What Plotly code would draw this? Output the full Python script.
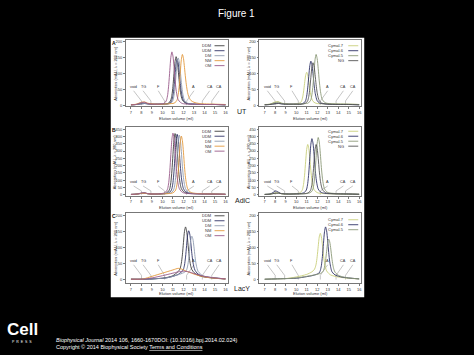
import plotly.graph_objects as go

# ---------------- data ----------------
X_TICKS = [7, 8, 9, 10, 11, 12, 13, 14, 15, 16]
Y_TICKS_200 = [0, 50, 100, 150, 200]
Y_TICKS_450 = [0, 50, 100, 150, 200, 250, 300, 350, 400, 450]

DETERGENTS = ["DDM", "UDM", "DM", "NM", "OM"]
DET_COLORS = ["#3d3d3d", "#2f3266", "#8e9bb0", "#e39a3e", "#9a5a8a"]
CYMALS = ["Cymal-7", "Cymal-6", "Cymal-5", "NG"]
CYM_COLORS = ["#c9cf7c", "#2f3266", "#8c9a78", "#555555"]

MARKER_NAMES = ["void", "TG", "F", "A", "CA", "CA"]
MARKER_POS = [8.0, 8.9, 10.2, 12.3, 13.8, 14.7]
MARKER_LABEL_POS = [7.25, 8.15, 9.6, 13.0, 14.5, 15.4]

# --- UT, detergents ---
UT_DDM_X = [7, 7.5, 8, 8.3, 8.6, 9, 9.5, 10, 10.3, 10.5, 10.7, 10.8, 10.9, 11.0, 11.1, 11.2, 11.3, 11.4, 11.5, 11.6, 11.7, 11.8, 11.9, 12.1, 12.3, 13, 14, 15, 16]
UT_DDM_Y = [1, 2, 5, 6, 4, 3, 3, 3, 4, 5, 10, 16, 31, 59, 100, 137, 152, 140, 110, 73, 44, 26, 16, 8, 5, 3, 2, 2, 1]
UT_UDM_X = [7, 7.5, 8, 8.3, 8.6, 9, 9.5, 10, 10.4, 10.6, 10.8, 10.9, 11.0, 11.1, 11.2, 11.3, 11.4, 11.5, 11.6, 11.7, 11.8, 11.9, 12.0, 12.2, 12.4, 13, 14, 15, 16]
UT_UDM_Y = [1, 2, 4, 5, 4, 3, 3, 3, 3, 5, 9, 15, 29, 56, 94, 129, 143, 132, 104, 68, 41, 25, 15, 8, 5, 3, 2, 2, 1]
UT_DM_X = [7, 7.5, 8, 8.3, 8.6, 9, 9.5, 10, 10.5, 10.7, 10.9, 11.0, 11.1, 11.2, 11.3, 11.4, 11.5, 11.6, 11.7, 11.8, 11.9, 12.0, 12.1, 12.3, 12.5, 13, 14, 15, 16]
UT_DM_Y = [1, 2, 4, 5, 4, 3, 3, 3, 3, 5, 9, 15, 30, 57, 97, 133, 148, 136, 107, 71, 43, 25, 15, 8, 5, 3, 2, 2, 1]
UT_NM_X = [7, 7.5, 8, 8.3, 8.6, 9, 9.5, 10, 10.5, 10.9, 11.1, 11.3, 11.4, 11.5, 11.6, 11.7, 11.8, 11.9, 12.0, 12.1, 12.2, 12.3, 12.4, 12.5, 12.7, 13.0, 13.5, 14, 15, 16]
UT_NM_Y = [1, 3, 9, 10, 6, 4, 3, 3, 4, 5, 6, 11, 17, 33, 62, 104, 143, 159, 147, 118, 85, 58, 39, 27, 15, 9, 5, 4, 3, 2]
UT_OM_X = [7, 7.5, 8, 8.3, 8.6, 9, 9.5, 9.9, 10.1, 10.3, 10.4, 10.5, 10.6, 10.7, 10.8, 10.9, 11.0, 11.1, 11.2, 11.3, 11.4, 11.5, 11.7, 11.9, 12.5, 13, 14, 15, 16]
UT_OM_Y = [1, 2, 8, 9, 5, 3, 3, 4, 5, 10, 17, 33, 65, 109, 150, 167, 154, 121, 80, 48, 28, 17, 9, 5, 3, 3, 2, 2, 1]

# --- UT, cymals ---
UT_C7_X = [7, 7.5, 8, 8.3, 8.6, 9, 9.5, 10, 10.2, 10.4, 10.5, 10.6, 10.7, 10.8, 10.9, 11.0, 11.1, 11.2, 11.3, 11.4, 11.5, 11.6, 11.8, 12.0, 13, 14, 15, 16]
UT_C7_Y = [2, 3, 10, 11, 6, 4, 3, 4, 5, 8, 12, 22, 41, 68, 93, 103, 95, 75, 50, 31, 19, 12, 7, 5, 4, 3, 3, 2]
UT_C6_X = [7, 7.5, 8, 8.3, 8.6, 9, 9.5, 10, 10.4, 10.6, 10.8, 10.9, 11.0, 11.1, 11.2, 11.3, 11.4, 11.5, 11.6, 11.7, 11.8, 11.9, 12.0, 12.2, 12.4, 13, 14, 15, 16]
UT_C6_Y = [1, 2, 5, 6, 4, 3, 3, 3, 3, 5, 9, 14, 28, 54, 90, 124, 138, 127, 100, 66, 40, 24, 14, 7, 5, 3, 2, 2, 1]
UT_C5_X = [7, 7.5, 8, 8.3, 8.6, 9, 9.5, 10, 10.5, 10.9, 11.1, 11.3, 11.4, 11.5, 11.6, 11.7, 11.8, 11.9, 12.0, 12.1, 12.2, 12.3, 12.4, 12.5, 12.7, 12.9, 13.5, 14, 15, 16]
UT_C5_Y = [1, 3, 8, 9, 6, 4, 3, 3, 4, 5, 6, 11, 17, 33, 62, 104, 143, 159, 146, 115, 76, 47, 27, 17, 9, 6, 4, 4, 3, 2]
UT_NG_X = [7, 7.5, 8, 8.3, 8.6, 9, 9.5, 10, 10.6, 10.8, 11.0, 11.1, 11.2, 11.3, 11.4, 11.5, 11.6, 11.7, 11.8, 11.9, 12.0, 12.1, 12.2, 12.4, 12.6, 13, 14, 15, 16]
UT_NG_Y = [1, 2, 4, 5, 4, 3, 3, 3, 3, 5, 9, 14, 27, 52, 87, 120, 133, 123, 96, 64, 39, 23, 14, 7, 5, 3, 2, 2, 1]

# --- AdiC, detergents ---
ADIC_DDM_X = [7, 7.5, 8, 8.3, 8.6, 9, 9.5, 10.0, 10.2, 10.4, 10.6, 10.7, 10.8, 10.9, 11.0, 11.1, 11.2, 11.3, 11.4, 11.5, 11.6, 11.7, 11.8, 12.0, 12.2, 12.7, 13.5, 14.5, 16]
ADIC_DDM_Y = [2, 4, 10, 12, 7, 5, 5, 6, 9, 13, 26, 42, 84, 163, 275, 378, 420, 387, 304, 200, 121, 71, 42, 22, 13, 8, 6, 5, 3]
ADIC_UDM_X = [7, 7.5, 8, 8.3, 8.6, 9, 9.5, 10.0, 10.4, 10.6, 10.8, 10.9, 11.0, 11.1, 11.2, 11.3, 11.4, 11.5, 11.6, 11.7, 11.8, 11.9, 12.0, 12.2, 12.4, 13, 14, 15, 16]
ADIC_UDM_Y = [2, 4, 9, 10, 7, 5, 5, 6, 9, 13, 26, 42, 83, 161, 272, 374, 415, 382, 300, 198, 120, 71, 42, 21, 13, 8, 6, 5, 3]
ADIC_DM_X = [7, 7.5, 8, 8.3, 8.6, 9, 9.5, 10.0, 10.6, 10.8, 11.0, 11.1, 11.2, 11.3, 11.4, 11.5, 11.6, 11.7, 11.8, 11.9, 12.0, 12.1, 12.2, 12.4, 12.6, 13, 14, 15, 16]
ADIC_DM_Y = [2, 4, 9, 10, 7, 5, 5, 6, 9, 13, 25, 41, 82, 159, 268, 370, 410, 378, 297, 195, 118, 70, 41, 21, 13, 9, 6, 5, 3]
ADIC_NM_X = [7, 7.5, 8, 8.3, 8.6, 9, 9.5, 10.0, 10.8, 11.0, 11.2, 11.3, 11.4, 11.5, 11.6, 11.7, 11.8, 11.9, 12.0, 12.1, 12.2, 12.3, 12.4, 12.6, 12.8, 13.2, 14, 15, 16]
ADIC_NM_Y = [2, 4, 9, 10, 7, 5, 5, 6, 9, 13, 25, 41, 81, 156, 264, 363, 403, 371, 292, 192, 116, 69, 41, 21, 13, 9, 6, 5, 3]
ADIC_OM_X = [7, 7.5, 8, 8.3, 8.6, 9, 9.5, 10.0, 10.2, 10.4, 10.5, 10.6, 10.7, 10.8, 10.9, 11.0, 11.1, 11.2, 11.3, 11.4, 11.5, 11.6, 11.8, 12.0, 12.5, 13, 14, 15, 16]
ADIC_OM_Y = [2, 4, 12, 14, 8, 5, 5, 9, 13, 26, 43, 84, 164, 277, 381, 423, 390, 306, 201, 122, 72, 43, 22, 13, 8, 6, 5, 4, 3]

# --- AdiC, cymals ---
ADIC_C7_X = [7, 7.5, 8, 8.3, 8.6, 9, 9.5, 10.1, 10.3, 10.5, 10.6, 10.7, 10.8, 10.9, 11.0, 11.1, 11.2, 11.3, 11.4, 11.5, 11.6, 11.7, 11.9, 12.1, 12.6, 13.2, 14, 15, 16]
ADIC_C7_Y = [2, 4, 12, 13, 7, 5, 5, 8, 12, 22, 36, 70, 134, 226, 311, 345, 318, 250, 165, 100, 59, 36, 19, 12, 8, 6, 5, 4, 3]
ADIC_C6_X = [7, 7.5, 7.8, 8.0, 8.2, 8.5, 9, 9.5, 10.5, 10.7, 10.9, 11.0, 11.1, 11.2, 11.3, 11.4, 11.5, 11.6, 11.7, 11.8, 11.9, 12.0, 12.1, 12.3, 12.5, 13, 14, 15, 16]
ADIC_C6_Y = [2, 5, 15, 26, 22, 10, 6, 5, 9, 13, 24, 39, 77, 149, 252, 347, 385, 355, 279, 184, 111, 66, 39, 20, 13, 8, 6, 5, 3]
ADIC_C5_X = [7, 7.5, 8, 8.3, 8.6, 9, 9.5, 10.5, 11.1, 11.3, 11.5, 11.6, 11.7, 11.8, 11.9, 12.0, 12.1, 12.2, 12.3, 12.4, 12.5, 12.6, 12.7, 12.9, 13.1, 13.6, 14.2, 15, 16]
ADIC_C5_Y = [2, 4, 10, 11, 7, 5, 5, 6, 9, 13, 24, 40, 79, 152, 257, 354, 393, 362, 284, 187, 114, 67, 40, 21, 13, 9, 6, 5, 3]
ADIC_NG_X = [7, 7.5, 8, 8.3, 8.6, 9, 9.5, 10.5, 10.9, 11.1, 11.3, 11.4, 11.5, 11.6, 11.7, 11.8, 11.9, 12.0, 12.1, 12.2, 12.3, 12.4, 12.5, 12.7, 12.9, 13.4, 14, 15, 16]
ADIC_NG_Y = [2, 4, 10, 11, 7, 5, 5, 6, 8, 12, 22, 36, 70, 134, 226, 311, 345, 318, 250, 165, 100, 59, 36, 19, 12, 8, 6, 5, 3]

# --- LacY, detergents ---
LACY_DDM_X = [7, 8, 9, 9.5, 10, 10.5, 11, 11.4, 11.6, 11.7, 11.8, 11.9, 12.0, 12.1, 12.2, 12.3, 12.4, 12.5, 12.6, 12.7, 12.8, 13.0, 13.2, 13.6, 14, 15, 16]
LACY_DDM_Y = [1, 1, 2, 3, 4, 7, 12, 22, 29, 36, 51, 77, 115, 150, 164, 152, 123, 87, 59, 41, 31, 22, 17, 11, 8, 4, 2]
LACY_UDM_X = [7, 8, 9, 9.5, 10, 10.5, 11, 11.5, 11.7, 11.9, 12.0, 12.1, 12.2, 12.3, 12.4, 12.5, 12.6, 12.7, 12.8, 12.9, 13.0, 13.1, 13.3, 13.5, 14, 15, 16]
LACY_UDM_Y = [1, 1, 2, 3, 4, 6, 10, 16, 21, 26, 32, 45, 70, 106, 139, 152, 142, 115, 81, 55, 39, 29, 20, 15, 9, 5, 2]
LACY_DM_X = [7, 8, 9, 9.5, 10, 10.5, 11, 11.5, 12.0, 12.2, 12.3, 12.4, 12.5, 12.6, 12.7, 12.8, 12.9, 13.0, 13.1, 13.2, 13.3, 13.4, 13.6, 13.8, 14.2, 15, 16]
LACY_DM_Y = [1, 1, 2, 3, 4, 6, 10, 15, 21, 25, 30, 42, 64, 95, 124, 135, 126, 102, 72, 49, 34, 25, 18, 13, 8, 5, 2]
LACY_NM_X = [7, 8.0, 8.2, 9, 10, 11, 11.5, 11.8, 12.2, 12.6, 13, 13.5, 14, 15, 16]
LACY_NM_Y = [1, 1, 2, 10, 20, 30, 35, 33, 27, 22, 17, 12, 8, 4, 2]
LACY_OM_X = [7, 8, 8.5, 9, 10, 11, 11.5, 12, 12.5, 13, 13.5, 14, 15, 16]
LACY_OM_Y = [1, 1, 2, 5, 12, 20, 24, 26, 24, 19, 14, 10, 5, 2]

# --- LacY, cymals ---
LACY_C7_X = [7, 8, 9, 10, 11, 11.5, 11.7, 11.8, 11.9, 12.0, 12.1, 12.2, 12.3, 12.4, 12.5, 12.6, 12.7, 12.8, 12.9, 13.1, 13.3, 14, 15, 16]
LACY_C7_Y = [1, 2, 3, 8, 16, 24, 30, 36, 48, 71, 103, 133, 144, 133, 108, 76, 53, 37, 27, 19, 14, 8, 4, 2]
LACY_C6_X = [7, 8, 9, 10, 11, 11.5, 12.0, 12.2, 12.3, 12.4, 12.5, 12.6, 12.7, 12.8, 12.9, 13.0, 13.1, 13.2, 13.3, 13.4, 13.6, 13.8, 14.3, 15, 16]
LACY_C6_Y = [1, 2, 3, 4, 9, 12, 17, 21, 28, 43, 72, 112, 149, 164, 152, 121, 84, 55, 37, 25, 17, 13, 8, 5, 2]
LACY_C5_X = [7, 8, 9, 10, 11, 11.5, 12, 12.3, 12.5, 12.6, 12.7, 12.8, 12.9, 13.0, 13.1, 13.2, 13.3, 13.4, 13.5, 13.6, 13.7, 13.9, 14.1, 14.5, 15, 16]
LACY_C5_Y = [1, 2, 3, 5, 10, 13, 16, 19, 23, 28, 39, 59, 88, 115, 126, 117, 95, 67, 45, 31, 23, 16, 12, 8, 5, 2]

ROW_TAGS = ["UT", "AdiC", "LacY"]
ROW_LETTERS = ["A", "B", "C"]

# ---------------- layout helpers ----------------
W, H = 474, 355
FONT = "Arial, Liberation Sans, sans-serif"


def fx(p):
    return p / W


def fy(p):
    return 1 - p / H


COL_PX = [(126, 228), (260, 362)]
ROW_PX = [(39, 106), (127, 196), (213, 284)]
Y_RANGES = [(-4, 205), (-8, 463), (-12, 208)]
Y_TICKS = [Y_TICKS_200, Y_TICKS_450, Y_TICKS_200]
LABEL_Y = [45, 60, 46]
KNEE_Y = [13, 26, 13]
LEG_Y0 = [[45, 45], [131, 131], [216, 220]]
XTITLE_OFF = [12, 12, 10]


def paper_text(x, y, text, size, color="#333", **kw):
    d = dict(x=fx(x), y=fy(y), xref="paper", yref="paper", text=text, showarrow=False,
             xanchor="center", yanchor="middle", font=dict(size=size, color=color, family=FONT))
    d.update(kw)
    return d


panels = [
    (0, 0, [(UT_DDM_X, UT_DDM_Y), (UT_UDM_X, UT_UDM_Y), (UT_DM_X, UT_DM_Y), (UT_NM_X, UT_NM_Y), (UT_OM_X, UT_OM_Y)], DETERGENTS, DET_COLORS),
    (0, 1, [(UT_C7_X, UT_C7_Y), (UT_C6_X, UT_C6_Y), (UT_C5_X, UT_C5_Y), (UT_NG_X, UT_NG_Y)], CYMALS, CYM_COLORS),
    (1, 0, [(ADIC_DDM_X, ADIC_DDM_Y), (ADIC_UDM_X, ADIC_UDM_Y), (ADIC_DM_X, ADIC_DM_Y), (ADIC_NM_X, ADIC_NM_Y), (ADIC_OM_X, ADIC_OM_Y)], DETERGENTS, DET_COLORS),
    (1, 1, [(ADIC_C7_X, ADIC_C7_Y), (ADIC_C6_X, ADIC_C6_Y), (ADIC_C5_X, ADIC_C5_Y), (ADIC_NG_X, ADIC_NG_Y)], CYMALS, CYM_COLORS),
    (2, 0, [(LACY_DDM_X, LACY_DDM_Y), (LACY_UDM_X, LACY_UDM_Y), (LACY_DM_X, LACY_DM_Y), (LACY_NM_X, LACY_NM_Y), (LACY_OM_X, LACY_OM_Y)], DETERGENTS, DET_COLORS),
    (2, 1, [(LACY_C7_X, LACY_C7_Y), (LACY_C6_X, LACY_C6_Y), (LACY_C5_X, LACY_C5_Y)], CYMALS[:3], CYM_COLORS[:3]),
]

fig = go.Figure()
annotations = []
shapes = []

# white figure panel
shapes.append(dict(type="rect", xref="paper", yref="paper", x0=fx(111), x1=fx(365), y0=fy(298), y1=fy(37),
                   fillcolor="white", line=dict(width=0), layer="below"))

for k, (r, c, series, names, colors) in enumerate(panels):
    xa = "x" if k == 0 else f"x{k + 1}"
    ya = "y" if k == 0 else f"y{k + 1}"
    xkey = "xaxis" if k == 0 else f"xaxis{k + 1}"
    ykey = "yaxis" if k == 0 else f"yaxis{k + 1}"
    x0p, x1p = COL_PX[c]
    y0p, y1p = ROW_PX[r]

    # marker callouts
    for mname, mpos, lpos in zip(MARKER_NAMES, MARKER_POS, MARKER_LABEL_POS):
        fig.add_trace(go.Scatter(x=[lpos, mpos, mpos], y=[LABEL_Y[r], KNEE_Y[r], 0], mode="lines",
                                 line=dict(color="#8a8a8a", width=0.5), xaxis=xa, yaxis=ya,
                                 showlegend=False, hoverinfo="skip"))
        annotations.append(dict(x=lpos, y=LABEL_Y[r], xref=xa, yref=ya, text=mname, showarrow=False,
                                xanchor="center", yanchor="bottom",
                                font=dict(size=3.8, color="#333", family=FONT)))

    for (xs, ys), name, col in zip(series, names, colors):
        fig.add_trace(go.Scatter(x=xs, y=ys, mode="lines", name=name,
                                 line=dict(color=col, width=0.9, shape="spline", smoothing=0.7),
                                 xaxis=xa, yaxis=ya, showlegend=False, hoverinfo="skip"))

    axis_common = dict(showline=True, linecolor="#777", linewidth=0.6, mirror=True, ticks="outside",
                       ticklen=2, tickwidth=0.5, tickcolor="#777", showgrid=False, zeroline=False,
                       tickfont=dict(size=4, color="#333", family=FONT))
    fig.layout[xkey] = dict(domain=[fx(x0p), fx(x1p)], range=[6.5, 16.2], tickvals=X_TICKS, anchor=ya,
                            **axis_common)
    fig.layout[ykey] = dict(domain=[fy(y1p), fy(y0p)], range=list(Y_RANGES[r]), tickvals=Y_TICKS[r], anchor=xa,
                            **axis_common)

    # axis titles
    annotations.append(paper_text((x0p + x1p) / 2, y1p + XTITLE_OFF[r], "Elution volume (ml)", 4))
    annotations.append(paper_text(x0p - 11, (y0p + y1p) / 2, "Absorption (mAU, \u03bb = 280 nm)", 4,
                                  textangle=-90))

    # legend drawn inside the plot
    tx = x1p - 15
    for i, (name, col) in enumerate(zip(names, colors)):
        ly = LEG_Y0[r][c] + i * 5
        annotations.append(paper_text(tx, ly, name, 4, xanchor="right"))
        shapes.append(dict(type="line", xref="paper", yref="paper", x0=fx(tx + 2), x1=fx(tx + 12),
                           y0=fy(ly), y1=fy(ly), line=dict(color=col, width=0.9)))

# panel letters and row tags
for r in range(3):
    annotations.append(paper_text(114, ROW_PX[r][0] + 3, "<b>" + ROW_LETTERS[r] + "</b>", 5, color="#111"))
    annotations.append(paper_text(243, ROW_PX[r][1] + 5, ROW_TAGS[r], 7, color="#222"))

# title and footer
annotations.append(paper_text(237, 13, "Figure 1", 10, color="white"))
annotations.append(paper_text(22.5, 330, "<b>Cell</b>", 17, color="white"))
annotations.append(paper_text(22.5, 343, "P  R  E  S  S", 3.5, color="white"))
annotations.append(paper_text(54, 341, "<i>Biophysical Journal</i> 2014 106, 1660-1670DOI: (10.1016/j.bpj.2014.02.024)",
                              5.5, color="white", xanchor="left"))
annotations.append(paper_text(54, 348, "Copyright \u00a9 2014 Biophysical Society <u>Terms and Conditions</u>",
                              5.5, color="white", xanchor="left"))

fig.update_layout(width=W, height=H, margin=dict(l=0, r=0, t=0, b=0), paper_bgcolor="black",
                  plot_bgcolor="white", showlegend=False, annotations=annotations, shapes=shapes,
                  font=dict(family=FONT))

fig.write_html("out.html", config={"displayModeBar": False},
               post_script="document.body.style.margin='0';document.body.style.background='black';"
                           "document.documentElement.style.overflow='hidden';")
